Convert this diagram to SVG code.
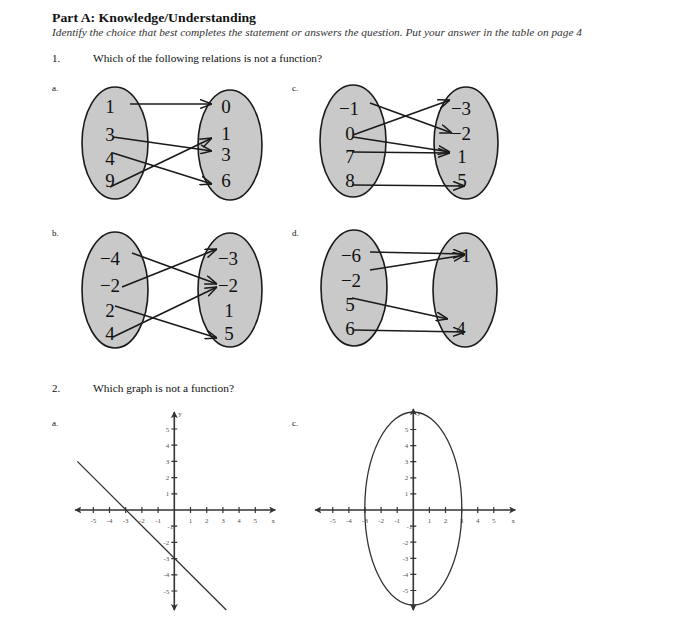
<svg xmlns="http://www.w3.org/2000/svg" width="700" height="640" viewBox="0 0 700 640">
<defs>
<style>
.t{font-family:"Liberation Serif","Times New Roman",serif;fill:#111}
.h{font-size:13px;font-weight:bold}
.i{font-size:11px;font-style:italic;fill:#333}
.q{font-size:11px}
.s{font-size:9px}
.n{font-size:19px;text-anchor:middle}
.set{fill:#c9c9c9;stroke:#1a1a1a;stroke-width:1.6}
.ar{fill:none;stroke:#1a1a1a;stroke-width:1.6;marker-end:url(#ah)}
.ax{stroke:#333;stroke-width:1.6;fill:none}
.tk{stroke:#333;stroke-width:1.2}
.gl{font-family:"Liberation Serif","Times New Roman",serif;font-size:7px;fill:#555}
.cv{fill:none;stroke:#333;stroke-width:1.3}
</style>
<marker id="ah" viewBox="0 0 12 10" refX="12" refY="5" markerWidth="12" markerHeight="10" markerUnits="userSpaceOnUse" orient="auto">
<path d="M0,0.5 L12,5 L0,9.5" fill="none" stroke="#1a1a1a" stroke-width="1.5"/>
</marker>
<marker id="aa" viewBox="0 0 8 8" refX="7" refY="4" markerWidth="7" markerHeight="7" markerUnits="userSpaceOnUse" orient="auto-start-reverse">
<path d="M0,0 L8,4 L0,8 L2,4 Z" fill="#333"/>
</marker>
</defs>
<rect width="700" height="640" fill="#fff"/>

<g id="header">
<text class="t h" x="52" y="22" textLength="204" lengthAdjust="spacingAndGlyphs">Part A: Knowledge/Understanding</text>
<text class="t i" x="52" y="36" textLength="530" lengthAdjust="spacingAndGlyphs">Identify the choice that best completes the statement or answers the question. Put your answer in the table on page 4</text>
<text class="t q" x="52" y="62">1.</text>
<text class="t q" x="93" y="62" textLength="229" lengthAdjust="spacingAndGlyphs">Which of the following relations is not a function?</text>
<text class="t s" x="52" y="91">a.</text>
<text class="t s" x="292" y="91">c.</text>
<text class="t s" x="52" y="236">b.</text>
<text class="t s" x="292" y="236">d.</text>
<text class="t q" x="52" y="392">2.</text>
<text class="t q" x="93" y="392" textLength="141" lengthAdjust="spacingAndGlyphs">Which graph is not a function?</text>
<text class="t s" x="52" y="426">a.</text>
<text class="t s" x="292" y="426">c.</text>
</g>

<!-- Relation a -->
<g id="rel-a">
<ellipse class="set" cx="115" cy="143" rx="33" ry="56"/>
<ellipse class="set" cx="230" cy="145" rx="32" ry="55"/>
<text class="t n" x="110" y="113">1</text>
<text class="t n" x="110" y="141">3</text>
<text class="t n" x="110" y="165">4</text>
<text class="t n" x="110" y="187">9</text>
<text class="t n" x="226" y="113">0</text>
<text class="t n" x="226" y="140">1</text>
<text class="t n" x="226" y="161">3</text>
<text class="t n" x="226" y="187">6</text>
</g>

<!-- Relation c -->
<g id="rel-c">
<ellipse class="set" cx="353" cy="141" rx="33" ry="56"/>
<ellipse class="set" cx="466" cy="143" rx="32" ry="56"/>
<text class="t n" x="349" y="115">−1</text>
<text class="t n" x="350" y="140">0</text>
<text class="t n" x="350" y="163">7</text>
<text class="t n" x="350" y="187">8</text>
<text class="t n" x="461" y="115">−3</text>
<text class="t n" x="461" y="140">−2</text>
<text class="t n" x="462" y="163">1</text>
<text class="t n" x="462" y="187">5</text>
</g>

<!-- Relation b -->
<g id="rel-b">
<ellipse class="set" cx="115" cy="290" rx="33" ry="58"/>
<ellipse class="set" cx="230" cy="290" rx="32" ry="57"/>
<text class="t n" x="110" y="265">−4</text>
<text class="t n" x="110" y="292">−2</text>
<text class="t n" x="110" y="317">2</text>
<text class="t n" x="110" y="340">4</text>
<text class="t n" x="228" y="265">−3</text>
<text class="t n" x="228" y="292">−2</text>
<text class="t n" x="229" y="317">1</text>
<text class="t n" x="229" y="340">5</text>
</g>

<!-- Relation d -->
<g id="rel-d">
<ellipse class="set" cx="354" cy="288" rx="33" ry="58"/>
<ellipse class="set" cx="465" cy="290" rx="32" ry="57"/>
<text class="t n" x="351" y="262">−6</text>
<text class="t n" x="351" y="287">−2</text>
<text class="t n" x="350" y="311">5</text>
<text class="t n" x="350" y="335">6</text>
<text class="t n" x="466" y="262">1</text>
<text class="t n" x="461" y="335">4</text>
</g>

<g id="connectors">
<!-- a -->
<line class="ar" x1="130" y1="104" x2="212" y2="104"/>
<line class="ar" x1="113" y1="137" x2="212" y2="151"/>
<line class="ar" x1="113" y1="153" x2="212" y2="184"/>
<line class="ar" x1="110" y1="187" x2="212" y2="138"/>
<!-- c -->
<line class="ar" x1="370" y1="103" x2="452" y2="133"/>
<line class="ar" x1="353" y1="135" x2="450" y2="100"/>
<line class="ar" x1="353" y1="137" x2="450" y2="152"/>
<line class="ar" x1="352" y1="152" x2="450" y2="153"/>
<line class="ar" x1="352" y1="185" x2="465" y2="186"/>
<!-- b -->
<line class="ar" x1="132" y1="253" x2="217" y2="284"/>
<line class="ar" x1="122" y1="287" x2="217" y2="249"/>
<line class="ar" x1="115" y1="306" x2="217" y2="338"/>
<line class="ar" x1="113" y1="337" x2="217" y2="287"/>
<!-- d -->
<line class="ar" x1="370" y1="252" x2="465" y2="254"/>
<line class="ar" x1="370" y1="270" x2="465" y2="255"/>
<line class="ar" x1="352" y1="298" x2="448" y2="319"/>
<line class="ar" x1="353" y1="330" x2="465" y2="332"/>
</g>

<!-- Graph a -->
<g id="graph-a" transform="translate(174.3,510)">
<line class="ax" x1="-99" y1="0" x2="101" y2="0" marker-start="url(#aa)" marker-end="url(#aa)"/>
<line class="ax" x1="0" y1="100" x2="0" y2="-98" marker-start="url(#aa)" marker-end="url(#aa)"/>
<path class="tk" d="M-81,-3v6M-64.8,-3v6M-48.6,-3v6M-32.4,-3v6M-16.2,-3v6M16.2,-3v6M32.4,-3v6M48.6,-3v6M64.8,-3v6M81,-3v6M-3,-81h6M-3,-64.8h6M-3,-48.6h6M-3,-32.4h6M-3,-16.2h6M-3,16.2h6M-3,32.4h6M-3,48.6h6M-3,64.8h6M-3,81h6"/>
<g class="gl" text-anchor="middle">
<text x="-81" y="13">-5</text><text x="-64.8" y="13">-4</text><text x="-48.6" y="13">-3</text><text x="-32.4" y="13">-2</text><text x="-16.2" y="13">-1</text>
<text x="16.2" y="13">1</text><text x="32.4" y="13">2</text><text x="48.6" y="13">3</text><text x="64.8" y="13">4</text><text x="81" y="13">5</text>
<text x="99" y="13">x</text>
</g>
<g class="gl" text-anchor="end">
<text x="-5" y="-78.5">5</text><text x="-5" y="-62.3">4</text><text x="-5" y="-46.1">3</text><text x="-5" y="-29.9">2</text><text x="-5" y="-13.7">1</text>
<text x="-1" y="18.7">-1</text><text x="-5" y="34.9">-2</text><text x="-5" y="51.1">-3</text><text x="-5" y="67.3">-4</text><text x="-5" y="83.5">-5</text>
</g>
<text class="gl" x="4" y="-94">y</text>
<line class="cv" x1="-97" y1="-48.6" x2="52" y2="100"/>
</g>

<!-- Graph c -->
<g id="graph-c" transform="translate(413.3,510)">
<line class="ax" x1="-98" y1="0" x2="102" y2="0" marker-start="url(#aa)" marker-end="url(#aa)"/>
<line class="ax" x1="0" y1="100" x2="0" y2="-101" marker-start="url(#aa)" marker-end="url(#aa)"/>
<path class="tk" d="M-80.5,-3v6M-64.4,-3v6M-48.3,-3v6M-32.2,-3v6M-16.1,-3v6M16.1,-3v6M32.2,-3v6M48.3,-3v6M64.4,-3v6M80.5,-3v6M-3,-80.5h6M-3,-64.4h6M-3,-48.3h6M-3,-32.2h6M-3,-16.1h6M-3,16.1h6M-3,32.2h6M-3,48.3h6M-3,64.4h6M-3,80.5h6"/>
<g class="gl" text-anchor="middle">
<text x="-80.5" y="13">-5</text><text x="-64.4" y="13">-4</text><text x="-48.3" y="13">-3</text><text x="-32.2" y="13">-2</text><text x="-16.1" y="13">-1</text>
<text x="16.1" y="13">1</text><text x="32.2" y="13">2</text><text x="48.3" y="13">3</text><text x="64.4" y="13">4</text><text x="80.5" y="13">5</text>
<text x="100" y="13">x</text>
</g>
<g class="gl" text-anchor="end">
<text x="-5" y="-78">5</text><text x="-5" y="-61.9">4</text><text x="-5" y="-45.8">3</text><text x="-5" y="-29.7">2</text><text x="-5" y="-13.6">1</text>
<text x="-1" y="18.6">-1</text><text x="-5" y="34.7">-2</text><text x="-5" y="50.8">-3</text><text x="-5" y="66.9">-4</text><text x="-5" y="83">-5</text>
</g>
<text class="gl" x="4" y="-95">y</text>
<ellipse class="cv" cx="0" cy="-1.5" rx="48.5" ry="96.5"/>
</g>
</svg>
